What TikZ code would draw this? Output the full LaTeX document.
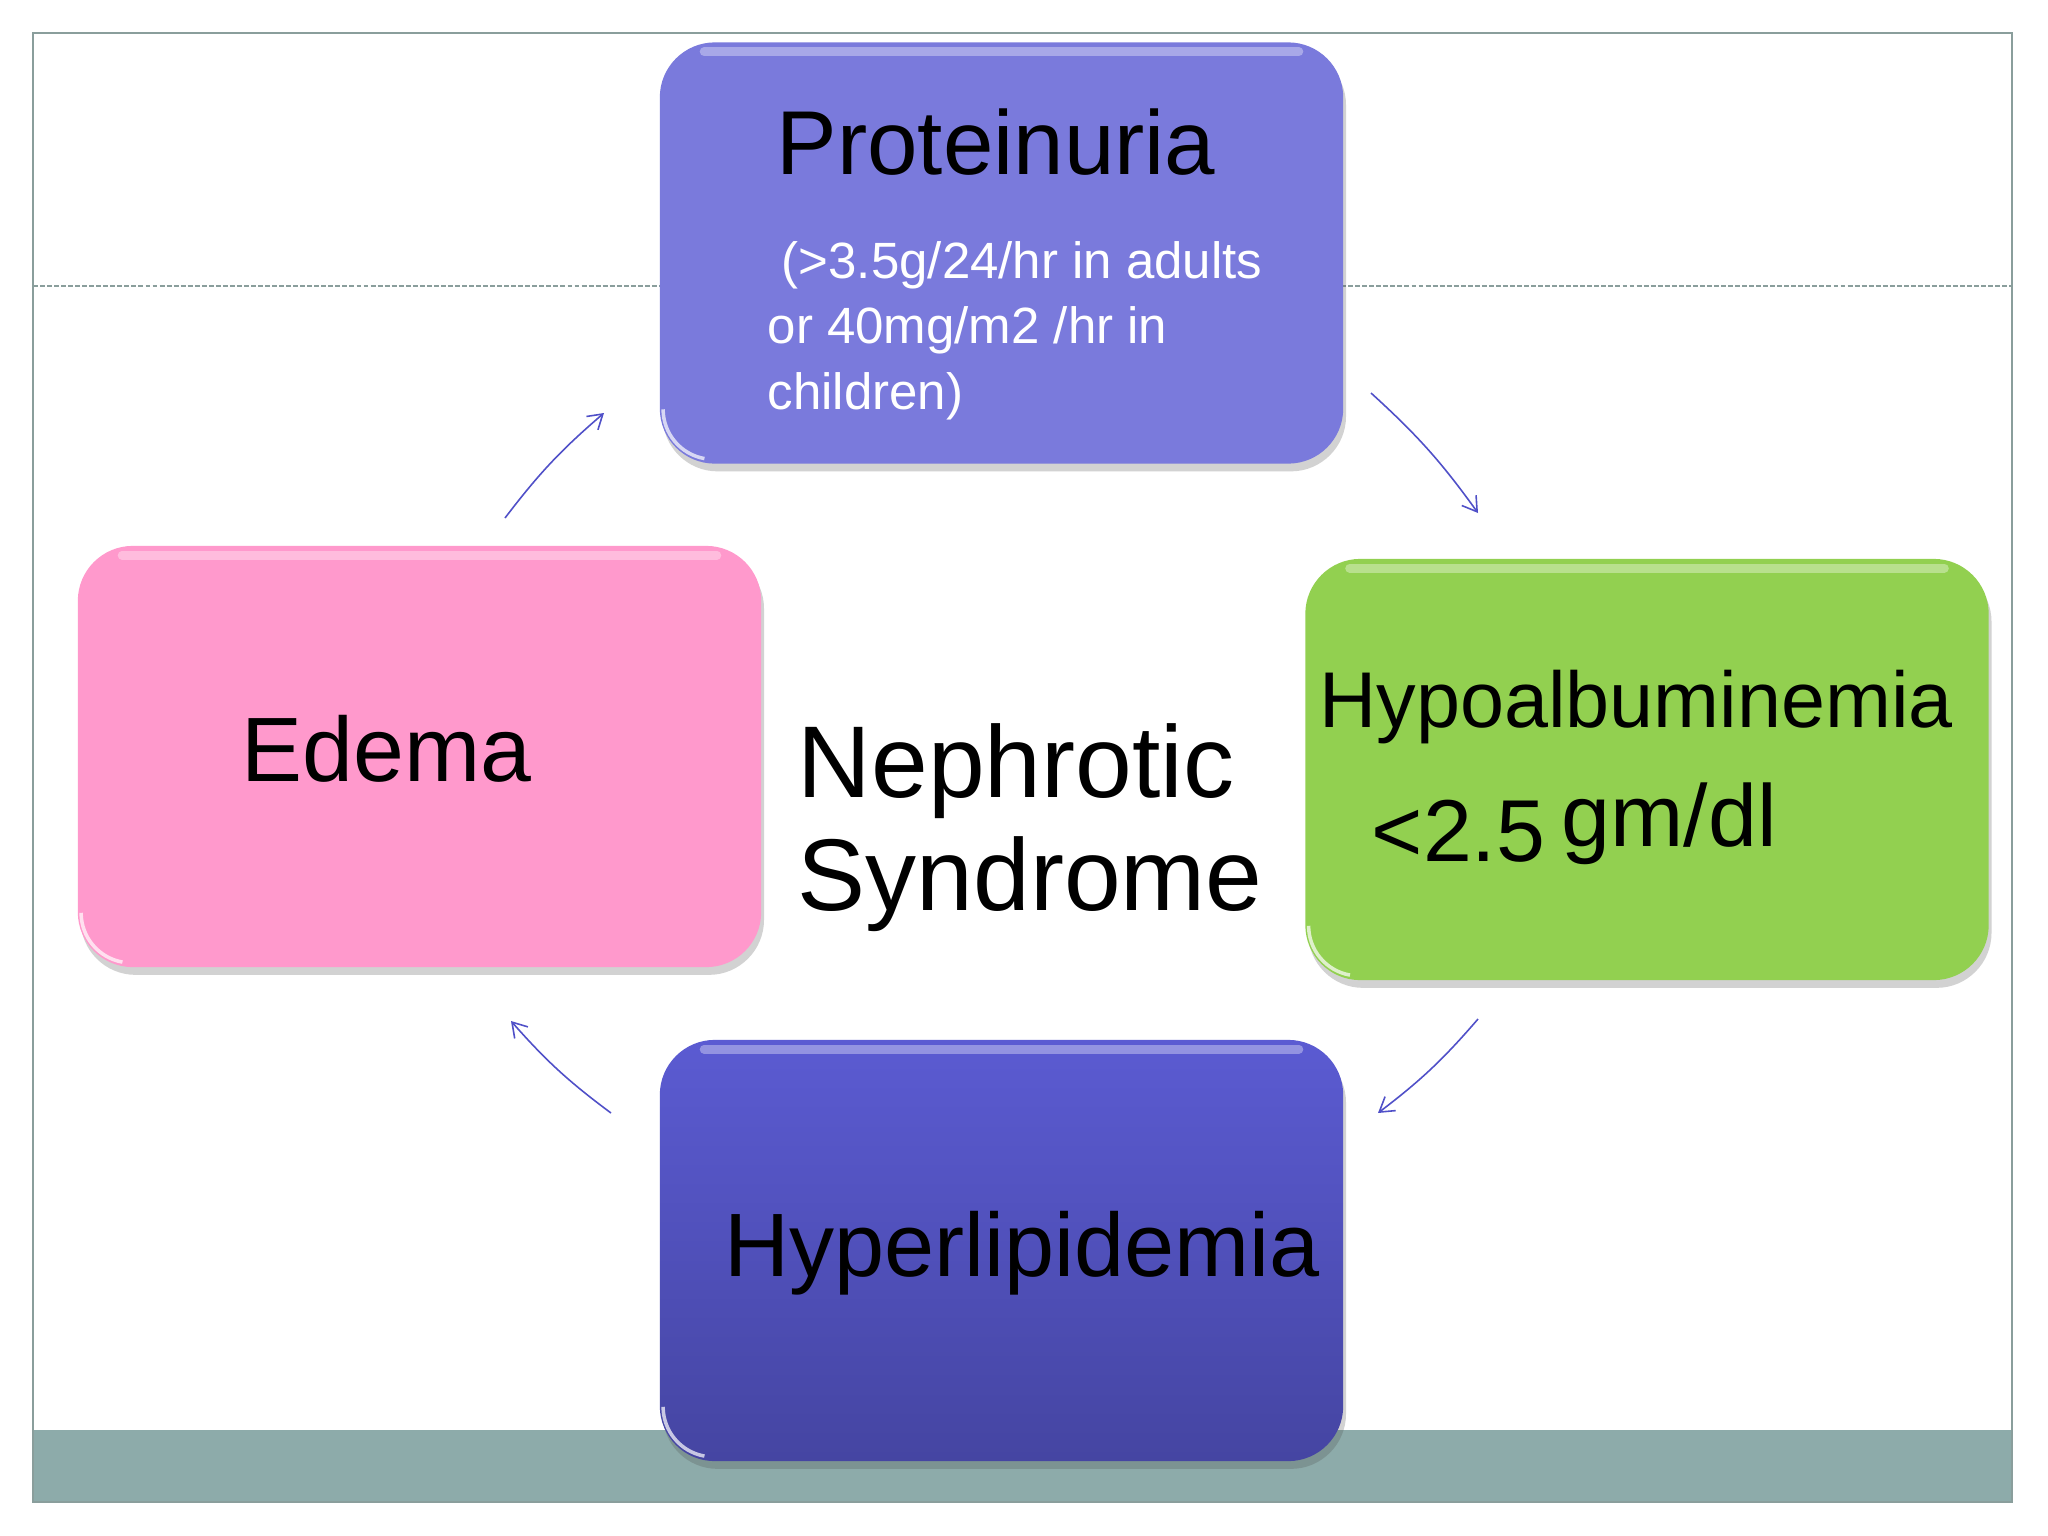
\documentclass[tikz,border=0pt]{standalone}
\usepackage{fontspec}
\setmainfont{Liberation Sans}
\usetikzlibrary{shadows,arrows.meta}
\definecolor{protc}{HTML}{7A7ADC}
\definecolor{edemac}{HTML}{FF99CC}
\definecolor{hypoc}{HTML}{92D050}
\definecolor{hyptop}{HTML}{5B5BD2}
\definecolor{hypbot}{HTML}{4545A2}
\definecolor{framec}{HTML}{8A9E9C}
\definecolor{bandc}{HTML}{8DABAA}
\definecolor{arrc}{HTML}{5050C8}
\tikzset{
  box/.style={rectangle, rounded corners=0.55cm, minimum width=6.83cm, minimum height=4.21cm, inner sep=0pt,
    drop shadow={shadow xshift=0.8pt, shadow yshift=-2.2pt, opacity=0.25, fill=black!70}},
  lbl/.style={anchor=base west, inner sep=0pt, text=black},
  cyc/.style={draw=arrc, line width=0.45pt, -{Straight Barb[length=4pt,width=5pt]}, bend left=6},
  gloss/.style={white, opacity=0.35, line width=2.5pt, line cap=round},
  rim/.style={white, opacity=0.7, line width=1pt},
}
\begin{document}
\begin{tikzpicture}[x=0.01cm,y=-0.01cm]
\useasboundingbox (0,0) rectangle (2048,1536);
\fill[white] (0,0) rectangle (2048,1536);
% frame, dashed rule and bottom band
\draw[framec, line width=0.45pt, dash pattern=on 1.4pt off 0.6pt] (33,286) -- (2012,286);
\fill[bandc] (33,1430) rectangle (2012,1502);
\draw[framec, line width=0.7pt] (33,33) rectangle (2012,1502);
% boxes
\node[box, fill=protc] (prot) at (1001.5,253) {};
\node[box, fill=edemac] (edema) at (419.5,756.5) {};
\node[box, fill=hypoc] (hypo) at (1647,769.5) {};
\node[box, top color=hyptop, bottom color=hypbot] (hyper) at (1001.5,1250.5) {};
% gloss highlights
\foreach \b in {prot,edema,hypo,hyper}{
  \draw[gloss] ([xshift=0.45cm,yshift=-0.1cm]\b.north west) -- ([xshift=-0.45cm,yshift=-0.1cm]\b.north east);
  \draw[rim] ([xshift=0.04cm,yshift=0.55cm]\b.south west) arc (180:260:0.5cm);
}
% texts
\node[lbl, font=\fontsize{25.8}{30}\selectfont] (tprot) at (776,174) {Proteinuria};
\node[lbl, text=white, font=\fontsize{14.5}{17}\selectfont] (tp1) at (767,278) {\ (>3.5g/24/hr in adults};
\node[lbl, text=white, font=\fontsize{14.5}{17}\selectfont] (tp2) at (767,343) {or 40mg/m2 /hr in};
\node[lbl, text=white, font=\fontsize{14.5}{17}\selectfont] (tp3) at (767,409) {children)};
\node[lbl, font=\fontsize{26}{31}\selectfont] (tedema) at (241,781) {Edema};
\node[lbl, font=\fontsize{29}{34}\selectfont] (tneph) at (797,797) {Nephrotic};
\node[lbl, font=\fontsize{29}{34}\selectfont] (tsyn) at (797,910) {Syndrome};
\node[lbl, font=\fontsize{22.5}{27}\selectfont] (thypo) at (1319,727) {Hypoalbuminemia};
\node[lbl, font=\fontsize{25}{30}\selectfont] (tval) at (1371,861) {<2.5};
\node[lbl, font=\fontsize{25}{30}\selectfont] (tunit) at (1561,846) {gm/dl};
\node[lbl, font=\fontsize{25.6}{30}\selectfont] (thyper) at (724,1276) {Hyperlipidemia};
% cycle arrows
\coordinate (c1a) at (505,518);  \coordinate (c1b) at (604,413);
\coordinate (c2a) at (1371,393); \coordinate (c2b) at (1478,513);
\coordinate (c3a) at (1478,1019); \coordinate (c3b) at (1378,1113);
\coordinate (c4a) at (611,1113); \coordinate (c4b) at (511,1021);
\draw[cyc] (c1a) to (c1b);
\draw[cyc] (c2a) to (c2b);
\draw[cyc] (c3a) to (c3b);
\draw[cyc] (c4a) to (c4b);
\end{tikzpicture}
\end{document}
